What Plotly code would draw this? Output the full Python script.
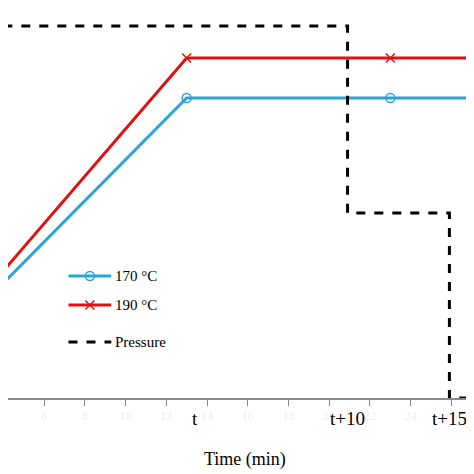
import plotly.graph_objects as go

# time (min) and relative levels
t_ramp = [4, 13, 23, 27.6]
temp170 = [115, 300, 300, 300]
temp190 = [127, 340, 340, 340]
t_press = [4, 20.9, 20.9, 25.9, 25.9, 27.6]
press = [372, 372, 185, 185, 0, 0]
tick_vals = [6, 8, 10, 12, 14, 16, 18, 20, 22, 24, 26]

fig = go.Figure()
fig.add_trace(go.Scatter(x=t_ramp, y=temp170, mode='lines', line=dict(color='#2aa3d8', width=3), showlegend=False))
fig.add_trace(go.Scatter(x=t_ramp[1:3], y=temp170[1:3], mode='markers', showlegend=False,
                         marker=dict(symbol='circle-open', size=9, color='#2aa3d8', line=dict(width=1.5))))
fig.add_trace(go.Scatter(x=t_ramp, y=temp190, mode='lines', line=dict(color='#e01010', width=3), showlegend=False))
fig.add_trace(go.Scatter(x=t_ramp[1:3], y=temp190[1:3], mode='markers', showlegend=False,
                         marker=dict(symbol='x-thin', size=9, color='#e01010', line=dict(width=1.5, color='#e01010'))))
fig.add_trace(go.Scatter(x=t_press, y=press, mode='lines', line=dict(color='black', width=3, dash='dash'), showlegend=False))

# legend drawn by hand
leg = [('170 °C', '#2aa3d8', 'solid', 'circle-open', 122),
       ('190 °C', '#e01010', 'solid', 'x-thin', 93),
       ('Pressure', 'black', 'dash', None, 56)]
for name, col, dash, sym, y in leg:
    fig.add_trace(go.Scatter(x=[7.2, 9.3], y=[y, y], mode='lines', line=dict(color=col, width=3, dash=dash), showlegend=False))
    if sym:
        fig.add_trace(go.Scatter(x=[8.25], y=[y], mode='markers', showlegend=False,
                                 marker=dict(symbol=sym, size=9, color=col, line=dict(width=1.5, color=col))))
    fig.add_annotation(x=9.4, y=y, yref='y', text=name, showarrow=False, xanchor='left',
                       font=dict(family='Liberation Serif', size=15, color='black'))

for txt, xv in [('t', 13.4), ('t+10', 20.9), ('t+15', 25.9)]:
    fig.add_annotation(x=xv, y=-0.085, yref='paper', text=txt, showarrow=False,
                       font=dict(family='Liberation Serif', size=19, color='black'))
fig.add_annotation(x=0.5, xref='paper', y=-0.19, yref='paper', text='Time (min)', showarrow=False,
                   font=dict(family='Liberation Serif', size=18, color='black'))

fig.update_layout(width=474, height=474, margin=dict(l=0, r=0, t=0, b=84, autoexpand=False),
                  plot_bgcolor='white', paper_bgcolor='white',
                  xaxis=dict(range=[4.23, 27.5], tickvals=tick_vals, showgrid=False, zeroline=False, automargin=False,
                             showline=True, linecolor='#888', linewidth=1.5, ticks='outside', tickcolor='#888',
                             ticklen=6, tickfont=dict(family='Liberation Serif', size=12, color='#eeeeee')),
                  yaxis=dict(range=[0, 390], visible=False, automargin=False))
fig.write_html('out.html')
